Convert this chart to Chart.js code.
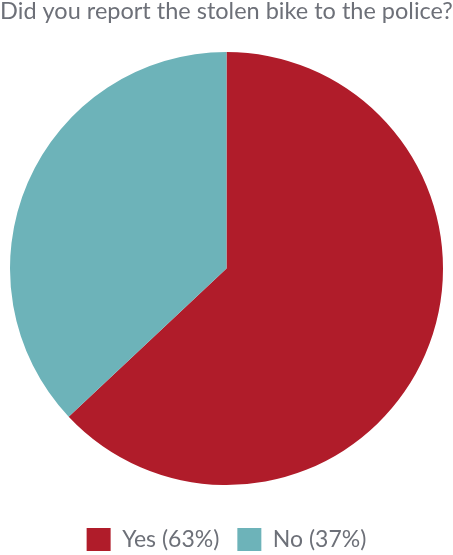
<!DOCTYPE html>
<html>
<head>
<meta charset="utf-8">
<script src="https://cdn.jsdelivr.net/npm/chart.js@4"></script>
<style>
  html, body { margin: 0; padding: 0; background: #fff; }
  #wrap { width: 453px; height: 555px; position: relative; }
</style>
</head>
<body>
<div id="wrap"><canvas id="pie-chart"></canvas></div>
<script>
const titleText = 'Did you report the stolen bike to the police?';
const categories = ['Yes', 'No'];
const percentages = [63, 37];
const sliceColors = ['#b01c2a', '#6db3b9'];

const labels = categories.map((c, i) => `${c} (${percentages[i]}%)`);

// keep the legend block at a fixed height so the pie keeps its size
const legendHeight = {
    id: 'legendHeight',
    beforeInit(chart) {
        const fit = chart.legend.fit;
        chart.legend.fit = function () {
            fit.call(this);
            this.height = 70;
        };
    }
};

const ctx = document.getElementById('pie-chart').getContext('2d');
new Chart(ctx, {
    type: 'pie',
    data: {
        labels,
        datasets: [{
            data: percentages,
            backgroundColor: sliceColors,
            borderWidth: 0
        }]
    },
    options: {
        responsive: true,
        maintainAspectRatio: false,
        animation: false,
        layout: { padding: 0 },
        plugins: {
            title: {
                display: true,
                text: titleText,
                color: '#6d7078',
                font: { family: 'Lato', size: 23.5, weight: 'normal', lineHeight: 1 },
                padding: { top: 0, bottom: 28.5 }
            },
            legend: {
                position: 'bottom',
                title: {
                    display: true,
                    text: ' ',
                    font: { size: 1, lineHeight: 1 },
                    padding: { top: 12, bottom: 12 }
                },
                labels: {
                    color: '#6d7078',
                    font: { family: 'Lato', size: 23 },
                    boxWidth: 24,
                    boxHeight: 23,
                    padding: 18
                }
            },
            tooltip: { enabled: false }
        }
    },
    plugins: [legendHeight]
});
</script>
</body>
</html>
